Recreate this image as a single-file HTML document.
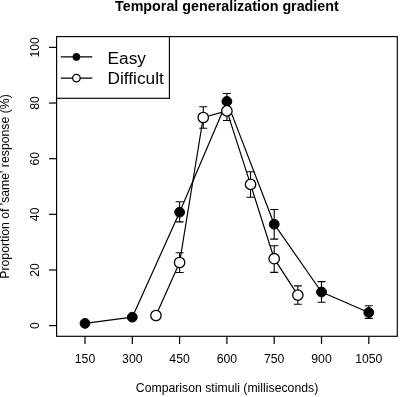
<!DOCTYPE html><html><head><meta charset="utf-8"><style>html,body{margin:0;padding:0;background:#fff;}svg{display:block;}text{font-family:"Liberation Sans",Arial,sans-serif;fill:#000;}</style></head><body>
<svg width="400" height="397" viewBox="0 0 400 397">
<rect x="0" y="0" width="400" height="397" fill="#fff"/>
<text x="226.9" y="11.2" text-anchor="middle" font-weight="bold" font-size="14.3">Temporal generalization gradient</text>
<rect x="56.6" y="36.6" width="340.7" height="299.7" fill="none" stroke="#000" stroke-width="1.15"/>
<line x1="49" y1="325.6" x2="56.6" y2="325.6" stroke="#000" stroke-width="1.2"/>
<text transform="translate(39.3,325.6) rotate(-90)" text-anchor="middle" font-size="12.25">0</text>
<line x1="49" y1="269.96" x2="56.6" y2="269.96" stroke="#000" stroke-width="1.2"/>
<text transform="translate(39.3,269.96) rotate(-90)" text-anchor="middle" font-size="12.25">20</text>
<line x1="49" y1="214.32" x2="56.6" y2="214.32" stroke="#000" stroke-width="1.2"/>
<text transform="translate(39.3,214.32) rotate(-90)" text-anchor="middle" font-size="12.25">40</text>
<line x1="49" y1="158.68" x2="56.6" y2="158.68" stroke="#000" stroke-width="1.2"/>
<text transform="translate(39.3,158.68) rotate(-90)" text-anchor="middle" font-size="12.25">60</text>
<line x1="49" y1="103.04" x2="56.6" y2="103.04" stroke="#000" stroke-width="1.2"/>
<text transform="translate(39.3,103.04) rotate(-90)" text-anchor="middle" font-size="12.25">80</text>
<line x1="49" y1="47.4" x2="56.6" y2="47.4" stroke="#000" stroke-width="1.2"/>
<text transform="translate(39.3,47.4) rotate(-90)" text-anchor="middle" font-size="12.25">100</text>
<line x1="85" y1="336.3" x2="85" y2="343.9" stroke="#000" stroke-width="1.2"/>
<text x="85" y="362.9" text-anchor="middle" font-size="12.25">150</text>
<line x1="132.3" y1="336.3" x2="132.3" y2="343.9" stroke="#000" stroke-width="1.2"/>
<text x="132.3" y="362.9" text-anchor="middle" font-size="12.25">300</text>
<line x1="179.6" y1="336.3" x2="179.6" y2="343.9" stroke="#000" stroke-width="1.2"/>
<text x="179.6" y="362.9" text-anchor="middle" font-size="12.25">450</text>
<line x1="226.9" y1="336.3" x2="226.9" y2="343.9" stroke="#000" stroke-width="1.2"/>
<text x="226.9" y="362.9" text-anchor="middle" font-size="12.25">600</text>
<line x1="274.2" y1="336.3" x2="274.2" y2="343.9" stroke="#000" stroke-width="1.2"/>
<text x="274.2" y="362.9" text-anchor="middle" font-size="12.25">750</text>
<line x1="321.5" y1="336.3" x2="321.5" y2="343.9" stroke="#000" stroke-width="1.2"/>
<text x="321.5" y="362.9" text-anchor="middle" font-size="12.25">900</text>
<line x1="368.8" y1="336.3" x2="368.8" y2="343.9" stroke="#000" stroke-width="1.2"/>
<text x="368.8" y="362.9" text-anchor="middle" font-size="12.25">1050</text>
<text x="227" y="392.2" text-anchor="middle" font-size="12.25">Comparison stimuli (milliseconds)</text>
<text transform="translate(9.4,186.5) rotate(-90)" text-anchor="middle" font-size="12.25">Proportion of 'same' response (%)</text>
<polyline fill="none" stroke="#000" stroke-width="1.2" stroke-linejoin="round" points="85,323.4 132.3,317.2 179.6,212.2 226.9,101.4 274.2,224.2 321.5,292 368.8,312.5"/>
<path d="M179.6 201.7V221.9M175.6 201.7H183.6M175.6 221.9H183.6" stroke="#000" stroke-width="1.1" fill="none"/>
<path d="M226.9 93.5V109.3M222.9 93.5H230.9M222.9 109.3H230.9" stroke="#000" stroke-width="1.1" fill="none"/>
<path d="M274.2 209.5V239.1M270.2 209.5H278.2M270.2 239.1H278.2" stroke="#000" stroke-width="1.1" fill="none"/>
<path d="M321.5 281.6V302.3M317.5 281.6H325.5M317.5 302.3H325.5" stroke="#000" stroke-width="1.1" fill="none"/>
<path d="M368.8 305.7V318.4M364.8 305.7H372.8M364.8 318.4H372.8" stroke="#000" stroke-width="1.1" fill="none"/>
<circle cx="85" cy="323.4" r="4.9" fill="#000" stroke="#000" stroke-width="1"/>
<circle cx="132.3" cy="317.2" r="4.9" fill="#000" stroke="#000" stroke-width="1"/>
<circle cx="179.6" cy="212.2" r="4.9" fill="#000" stroke="#000" stroke-width="1"/>
<circle cx="226.9" cy="101.4" r="4.9" fill="#000" stroke="#000" stroke-width="1"/>
<circle cx="274.2" cy="224.2" r="4.9" fill="#000" stroke="#000" stroke-width="1"/>
<circle cx="321.5" cy="292" r="4.9" fill="#000" stroke="#000" stroke-width="1"/>
<circle cx="368.8" cy="312.5" r="4.9" fill="#000" stroke="#000" stroke-width="1"/>
<polyline fill="none" stroke="#000" stroke-width="1.2" stroke-linejoin="round" points="155.95,315.5 179.6,262.5 203.25,117.5 226.9,110.9 250.55,184.4 274.2,258.7 297.85,295.1"/>
<path d="M179.6 252.8V272.5M175.6 252.8H183.6M175.6 272.5H183.6" stroke="#000" stroke-width="1.1" fill="none"/>
<path d="M203.25 106.8V128.2M199.25 106.8H207.25M199.25 128.2H207.25" stroke="#000" stroke-width="1.1" fill="none"/>
<path d="M226.9 101.3V120.5M222.9 101.3H230.9M222.9 120.5H230.9" stroke="#000" stroke-width="1.1" fill="none"/>
<path d="M250.55 171.8V197.2M246.55 171.8H254.55M246.55 197.2H254.55" stroke="#000" stroke-width="1.1" fill="none"/>
<path d="M274.2 245.7V272.4M270.2 245.7H278.2M270.2 272.4H278.2" stroke="#000" stroke-width="1.1" fill="none"/>
<path d="M297.85 285.9V304.2M293.85 285.9H301.85M293.85 304.2H301.85" stroke="#000" stroke-width="1.1" fill="none"/>
<circle cx="155.95" cy="315.5" r="5.2" fill="#fff" stroke="#000" stroke-width="1.3"/>
<circle cx="179.6" cy="262.5" r="5.2" fill="#fff" stroke="#000" stroke-width="1.3"/>
<circle cx="203.25" cy="117.5" r="5.2" fill="#fff" stroke="#000" stroke-width="1.3"/>
<circle cx="226.9" cy="110.9" r="5.2" fill="#fff" stroke="#000" stroke-width="1.3"/>
<circle cx="250.55" cy="184.4" r="5.2" fill="#fff" stroke="#000" stroke-width="1.3"/>
<circle cx="274.2" cy="258.7" r="5.2" fill="#fff" stroke="#000" stroke-width="1.3"/>
<circle cx="297.85" cy="295.1" r="5.2" fill="#fff" stroke="#000" stroke-width="1.3"/>
<rect x="56.6" y="36.6" width="112.8" height="61.7" fill="#fff" stroke="#000" stroke-width="1.15"/>
<line x1="60.8" y1="56.9" x2="92.3" y2="56.9" stroke="#000" stroke-width="1.2"/>
<circle cx="76.4" cy="56.9" r="3.5" fill="#000" stroke="#000" stroke-width="1"/>
<text x="107.5" y="63.7" font-size="17.3">Easy</text>
<line x1="60.8" y1="78.1" x2="92.3" y2="78.1" stroke="#000" stroke-width="1.2"/>
<circle cx="76.4" cy="78.1" r="3.8" fill="#fff" stroke="#000" stroke-width="1.3"/>
<text x="107.5" y="83.9" font-size="17.3">Difficult</text>
</svg></body></html>
